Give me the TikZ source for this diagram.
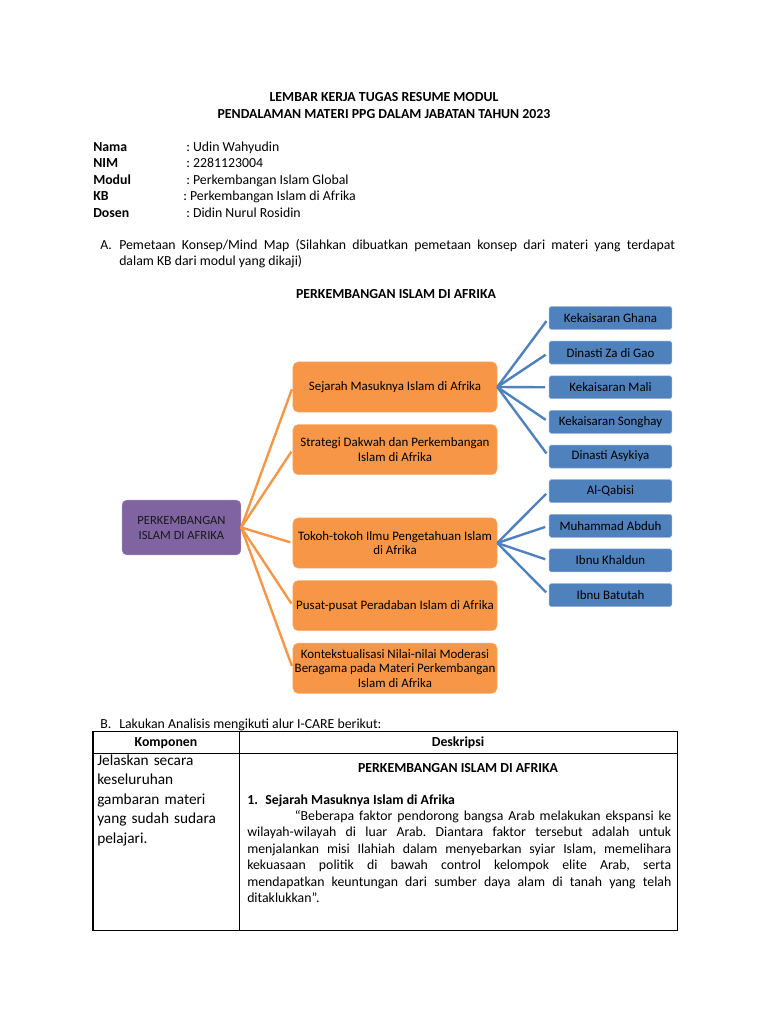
\documentclass[tikz,border=0pt]{standalone}
\usepackage{fontspec}
\setmainfont{Carlito}
\usetikzlibrary{positioning}
\frenchspacing

\definecolor{mmorange}{HTML}{F79646}
\definecolor{mmblue}{HTML}{4F81BD}
\definecolor{mmpurple}{HTML}{8064A2}

\begin{document}
\begin{tikzpicture}[x=0.797pt, y=-0.797pt,
  txt/.style={inner sep=0pt, font=\fontsize{11}{13.2}\selectfont},
  bold/.style={inner sep=0pt, font=\fontsize{11}{13.2}\selectfont\bfseries},
  rootbox/.style={rectangle, rounded corners=4pt, fill=mmpurple, draw=mmpurple!75!white, minimum width=94.8pt, minimum height=43.8pt, align=center, font=\fontsize{10}{12}\selectfont, text=black!90},
  topicbox/.style={rectangle, rounded corners=4pt, fill=mmorange, draw=mmorange!75!white, minimum width=162.6pt, minimum height=39.9pt, inner sep=1pt, align=center, font=\fontsize{10.3}{11.6}\selectfont, text=black},
  leafbox/.style={rectangle, rounded corners=1.5pt, fill=mmblue, draw=mmblue!60!white, minimum width=98pt, minimum height=18.3pt, inner sep=1pt, align=center, font=\fontsize{10.3}{12}\selectfont, text=black},
  orangeline/.style={draw=mmorange, line width=1.9pt, shorten >=2pt},
  blueline/.style={draw=mmblue, line width=1.9pt, shorten >=3pt}
]
  \fill[white] (0,0) rectangle (768,1024);
  \useasboundingbox (0,0) rectangle (768,1024);

  % judul
  \node[bold, anchor=base] (judul1) at (384,101) {LEMBAR KERJA TUGAS RESUME MODUL};
  \node[bold, anchor=base] (judul2) at (384,118) {PENDALAMAN MATERI PPG DALAM JABATAN TAHUN 2023};

  % identitas
  \foreach \lbl/\val/\yy/\xx in {Nama/Udin Wahyudin/151/186, NIM/2281123004/167/186,
      Modul/Perkembangan Islam Global/184/186, KB/Perkembangan Islam di Afrika/200/183,
      Dosen/Didin Nurul Rosidin/217/186}{
    \node[bold, anchor=base west] (lbl-\lbl) at (93,\yy) {\lbl};
    \node[txt, anchor=base west] (val-\lbl) at (\xx,\yy) {: \val};
  }

  % bagian A
  \node[txt, anchor=base west] (hurufA) at (100,249) {A.};
  \node[txt, anchor=base west, text width=443pt, align=justify] (tugasA) at (119,249)
    {Pemetaan Konsep/Mind Map (Silahkan dibuatkan pemetaan konsep dari materi yang terdapat\linebreak
     dalam KB dari modul yang dikaji)};

  % peta konsep
  \node[bold, anchor=base] (petajudul) at (396,298) {PERKEMBANGAN ISLAM DI AFRIKA};

  \node[rootbox] (root) at (181.5,527.5) {PERKEMBANGAN\\ISLAM DI AFRIKA};

  \node[topicbox] (sejarah) at (395,387) {Sejarah Masuknya Islam di Afrika};
  \node[topicbox, below=9.6pt of sejarah] (strategi) {Strategi Dakwah dan Perkembangan\\Islam di Afrika};
  \node[topicbox] (tokoh) at (395,543) {Tokoh-tokoh Ilmu Pengetahuan Islam\\di Afrika};
  \node[topicbox, below=9.6pt of tokoh] (pusat) {Pusat-pusat Peradaban Islam di Afrika};
  \node[topicbox, below=9.6pt of pusat] (konteks) {Kontekstualisasi Nilai-nilai Moderasi\\Beragama pada Materi Perkembangan\\Islam di Afrika};

  \node[leafbox] (ghana) at (610.5,318) {Kekaisaran Ghana};
  \node[leafbox, below=8.9pt of ghana] (zagao) {Dinasti Za di Gao};
  \node[leafbox, below=8.9pt of zagao] (mali) {Kekaisaran Mali};
  \node[leafbox, below=8.9pt of mali] (songhay) {Kekaisaran Songhay};
  \node[leafbox, below=8.9pt of songhay] (asykiya) {Dinasti Asykiya};
  \node[leafbox, below=8.9pt of asykiya] (qabisi) {Al-Qabisi};
  \node[leafbox, below=8.9pt of qabisi] (abduh) {Muhammad Abduh};
  \node[leafbox, below=8.9pt of abduh] (khaldun) {Ibnu Khaldun};
  \node[leafbox, below=8.9pt of khaldun] (batutah) {Ibnu Batutah};

  \foreach \t in {sejarah,strategi,tokoh,pusat,konteks}
    \draw[orangeline] (root.east) -- (\t.west);
  \foreach \l in {ghana,zagao,mali,songhay,asykiya}
    \draw[blueline] (sejarah.east) -- (\l.west);
  \foreach \l in {qabisi,abduh,khaldun,batutah}
    \draw[blueline] (tokoh.east) -- (\l.west);

  % bagian B
  \node[txt, anchor=base west] (hurufB) at (100,728) {B.};
  \node[txt, anchor=base west] (tugasB) at (119,728) {Lakukan Analisis mengikuti alur I-CARE berikut:};

  % tabel
  \draw[line width=0.8pt] (93,731) rectangle (677,930);
  \draw[line width=0.8pt] (93,753) -- (677,753);
  \draw[line width=0.8pt] (239,731) -- (239,930);

  \node[bold, anchor=base] (komponen) at (166,746) {Komponen};
  \node[bold, anchor=base] (deskripsi) at (458,746) {Deskripsi};

  \node[inner sep=0pt, anchor=base west, text width=112pt, align=left, font=\fontsize{12.2}{15.6}\selectfont] (perintah) at (97,765)
    {Jelaskan secara\\keseluruhan\\gambaran materi\\yang sudah sudara\\pelajari.};

  \node[bold, anchor=base] (isijudul) at (458,772) {PERKEMBANGAN ISLAM DI AFRIKA};
  \node[bold, anchor=base west] (subjudul) at (247,804) {1.\hspace{6pt}Sejarah Masuknya Islam di Afrika};
  \node[txt, anchor=base west, text width=338pt, align=justify] (kutipan) at (247,820)
    {\hspace*{38pt}“Beberapa faktor pendorong bangsa Arab melakukan ekspansi ke\linebreak
     wilayah-wilayah di luar Arab. Diantara faktor tersebut adalah untuk\linebreak
     menjalankan misi Ilahiah dalam menyebarkan syiar Islam, memelihara\linebreak
     kekuasaan politik di bawah control kelompok elite Arab, serta\linebreak
     mendapatkan keuntungan dari sumber daya alam di tanah yang telah\linebreak
     ditaklukkan”.};
\end{tikzpicture}
\end{document}
